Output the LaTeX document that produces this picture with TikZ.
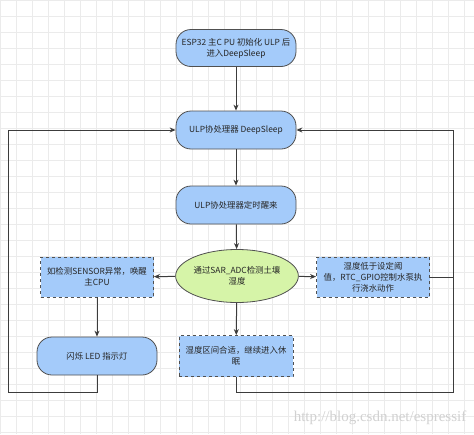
\documentclass[tikz,border=0pt]{standalone}
\usepackage{fontspec}
\newfontfamily\cjk{Noto Sans CJK SC}
\newfontfamily\markfont{Liberation Serif}
\usetikzlibrary{positioning}
\usetikzlibrary{arrows.meta}
\usetikzlibrary{shapes}

\definecolor{boxblue}{RGB}{164,203,250}
\definecolor{ovalgreen}{RGB}{214,244,168}
\definecolor{edgegray}{RGB}{80,80,80}
\definecolor{linegray}{RGB}{60,60,60}

\begin{document}
\begin{tikzpicture}[
        x=1pt, y=-1pt,
        >={Stealth[length=6pt,width=5pt]},
        every node/.style={font=\cjk\fontsize{8.4}{11}\selectfont, text=black!85, align=center},
        pill/.style={
            rectangle,
            rounded corners=15pt,
            draw=edgegray,
            fill=boxblue,
            line width=0.8pt,
            minimum width=120pt,
            minimum height=38pt,
        },
        dashbox/.style={
            rectangle,
            draw=edgegray,
            dashed,
            fill=boxblue,
            line width=0.8pt,
            minimum width=113pt,
            minimum height=40pt,
            inner sep=1pt,
        },
        oval/.style={
            ellipse,
            draw=edgegray,
            fill=ovalgreen,
            line width=0.8pt,
            minimum width=100pt,
            minimum height=53pt,
            inner sep=0pt,
        },
        link/.style={draw=linegray, line width=1pt}
    ]

    % background grid
    \useasboundingbox (0,0) rectangle (474,434);
    \fill[white] (0,0) rectangle (474,434);
    \foreach \gx in {0,16,...,474}
        \draw[black!8, line width=0.5pt] (\gx,0) -- (\gx,434);
    \foreach \gy in {0,16,...,434}
        \draw[black!8, line width=0.5pt] (0,\gy) -- (474,\gy);

    \node (esp) at (236,48) [pill, minimum height=37pt] {ESP32 主C PU 初始化 ULP 后\\进入DeepSleep};
    \node (sleep) at (236,130) [pill] {ULP协处理器 DeepSleep};
    \node (wake) at (236,205) [pill] {ULP协处理器定时醒来};
    \node (adc) at (237,276) [oval] {通过SAR\_ADC检测土壤\\湿度};
    \node (alarm) at (97,277) [dashbox] {如检测SENSOR异常，唤醒\\主CPU};
    \node (pump) at (373,277) [dashbox] {湿度低于设定阈\\值，RTC\_GPIO控制水泵执\\行浇水动作};
    \node (led) at (97,356) [pill] {闪烁 LED 指示灯};
    \node (rest) at (236,356) [dashbox, minimum width=114pt, minimum height=41pt] {湿度区间合适，继续进入休\\眠};

    \coordinate (bl) at (8,392);
    \coordinate (br) at (453,392);

    \draw [link, ->] (esp) -- (sleep);
    \draw [link, ->] (sleep) -- (wake);
    \draw [link, ->] (wake) -- (adc);
    \draw [link, ->] (adc) -- (alarm);
    \draw [link, ->] (adc) -- (pump);
    \draw [link, ->] (adc) -- (rest);
    \draw [link, ->] (alarm) -- (led);
    \draw [link, ->] (led) |- (bl) |- (sleep);
    \draw [link, ->] (rest) |- (br) |- (sleep);
    \draw [link] (pump) -- (pump -| br);

    \node (mark) at (380,418) [font=\markfont\fontsize{15}{15}\selectfont, text=black!18] {http://blog.csdn.net/espressif};

\end{tikzpicture}
\end{document}
